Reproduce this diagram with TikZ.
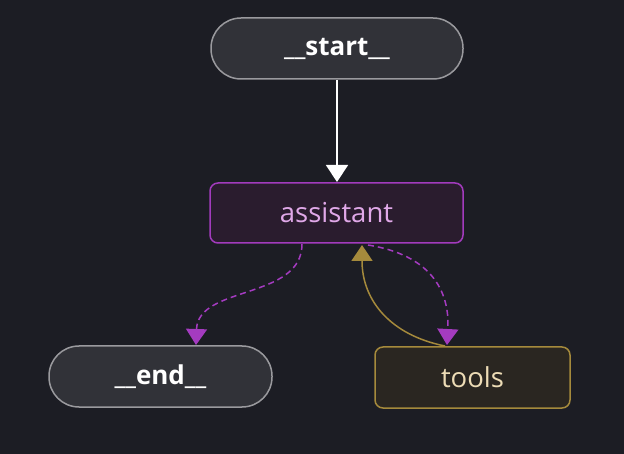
\documentclass[tikz,border=0pt]{standalone}
\usepackage{fontspec}
\setmainfont{Open Sans}
\usetikzlibrary{arrows.meta}
\definecolor{bg}{HTML}{1C1D24}
\definecolor{greyfill}{HTML}{313238}
\definecolor{greyline}{HTML}{9A9A9E}
\definecolor{purpfill}{HTML}{2A1C2E}
\definecolor{purpline}{HTML}{A23BBD}
\definecolor{purptext}{HTML}{E0A8E8}
\definecolor{goldfill}{HTML}{2A2621}
\definecolor{goldline}{HTML}{A58A3C}
\definecolor{goldtext}{HTML}{EDDCB6}
\definecolor{purparrow}{HTML}{A43BC0}
\begin{document}
\begin{tikzpicture}[x=1pt,y=-1pt,
  terminalbox/.style={draw=greyline,fill=greyfill,line width=1.5pt,rounded corners=30pt},
  terminaltext/.style={text=white,font=\fontsize{26}{28}\selectfont\bfseries},
  assistbox/.style={draw=purpline,fill=purpfill,line width=1.5pt,rounded corners=8pt},
  assisttext/.style={text=purptext,font=\fontsize{27.5}{29}\selectfont},
  toolbox/.style={draw=goldline,fill=goldfill,line width=1.5pt,rounded corners=8pt},
  tooltext/.style={text=goldtext,font=\fontsize{27.5}{29}\selectfont},
  dashedge/.style={draw=purparrow,line width=1.5pt,dash pattern=on 6pt off 4pt,-{Triangle[length=16pt,width=21pt,fill=purparrow]}}
]
\fill[bg] (0,0) rectangle (624,454);
\useasboundingbox (0,0) rectangle (624,454);
\draw[terminalbox] (211,18) rectangle (463,79);
\node[terminaltext] (start) at (337,48.5) {\_\_start\_\_};
\draw[assistbox] (210,183) rectangle (463,243);
\node[assisttext] (assistant) at (336.5,213) {assistant};
\draw[terminalbox] (49,346) rectangle (272,407);
\node[terminaltext] (end) at (160.5,376.5) {\_\_end\_\_};
\draw[toolbox] (375,347) rectangle (570,408);
\node[tooltext] (tools) at (472.5,377.5) {tools};
\coordinate (s1) at (337,80);
\coordinate (a1) at (337,182);
\draw[white,line width=1.5pt,-{Triangle[length=17pt,width=22pt,fill=white]}] (s1) -- (a1);
\coordinate (a2) at (302,244);
\coordinate (e1) at (196,345);
\draw[dashedge] (a2) .. controls (302,300) and (198,285) .. (e1);
\coordinate (a3) at (368,245);
\coordinate (t1) at (447,345);
\draw[dashedge] (a3) .. controls (430,255) and (450,290) .. (t1);
\coordinate (t2) at (445,346);
\coordinate (a4) at (362,245);
\draw[goldline,line width=1.5pt,-{Triangle[length=16pt,width=21pt,fill=goldline]}] (t2) .. controls (390,335) and (362,300) .. (a4);
\end{tikzpicture}
\end{document}
